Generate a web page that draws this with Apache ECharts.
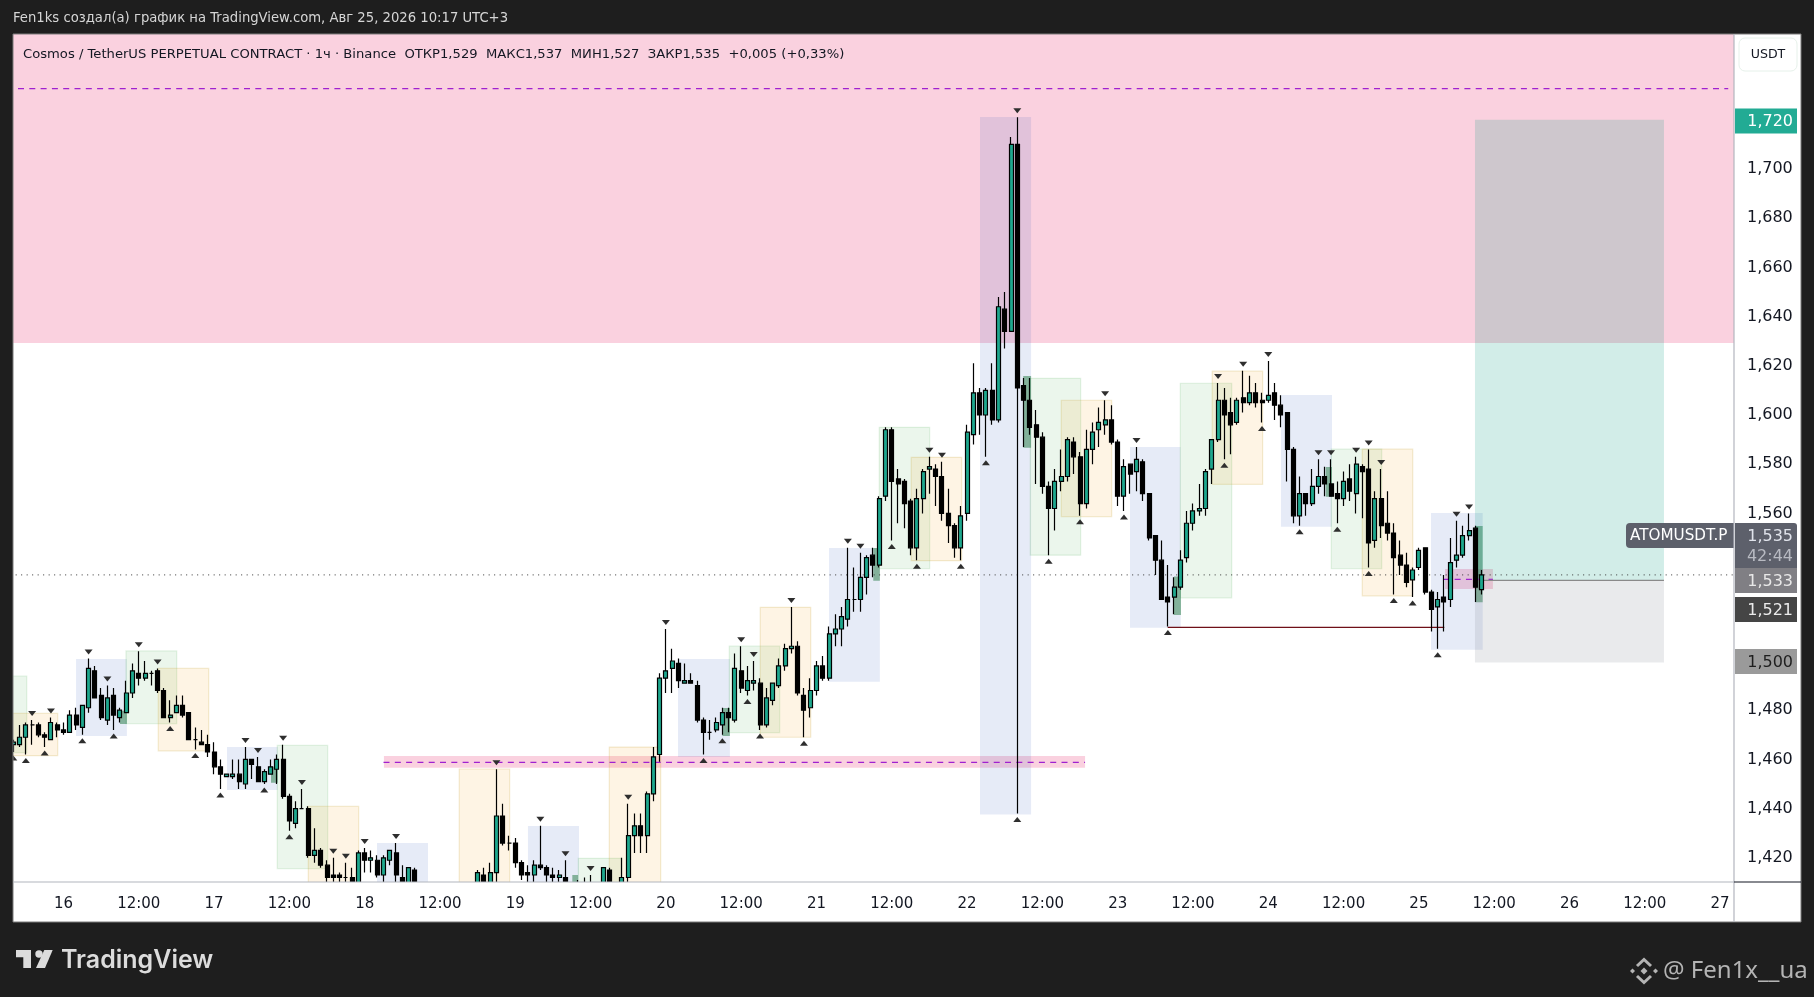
<!DOCTYPE html>
<html><head><meta charset="utf-8">
<style>html,body{margin:0;padding:0;background:#1e1e1e}#c{width:1814px;height:997px}</style>
<script src="https://cdn.jsdelivr.net/npm/echarts@6/dist/echarts.min.js"></script>
</head><body><div id="c"></div>
<script>
const firstHour=-8, lastHour=266;
const opens=[1.466,1.466,1.469,1.474,1.474,1.470,1.468,1.474,1.472,1.471,1.478,1.473,1.481,1.496,1.486,1.476,1.486,1.477,1.479,1.487,1.495,1.493,1.495,1.496,1.488,1.477,1.479,1.482,1.479,1.468,1.467,1.466,1.463,1.457,1.453,1.453,1.454,1.450,1.460,1.457,1.451,1.454,1.456,1.460,1.445,1.434,1.440,1.440,1.421,1.423,1.417,1.413,1.413,1.412,1.412,1.408,1.422,1.419,1.419,1.413,1.419,1.422,1.412,1.408,1.415,1.407,1.405,1.403,1.405,1.402,1.400,1.402,1.404,1.402,1.408,1.413,1.408,1.414,1.437,1.426,1.426,1.418,1.414,1.413,1.417,1.416,1.413,1.412,1.412,1.406,1.404,1.406,1.405,1.407,1.407,1.415,1.407,1.406,1.412,1.429,1.433,1.429,1.446,1.462,1.493,1.497,1.499,1.491,1.492,1.490,1.476,1.471,1.472,1.474,1.479,1.476,1.496,1.488,1.491,1.491,1.474,1.484,1.490,1.498,1.505,1.506,1.486,1.481,1.488,1.498,1.493,1.511,1.513,1.517,1.525,1.525,1.534,1.543,1.539,1.567,1.594,1.574,1.573,1.565,1.546,1.566,1.578,1.578,1.575,1.560,1.555,1.546,1.560,1.592,1.609,1.600,1.610,1.598,1.643,1.634,1.710,1.612,1.606,1.596,1.591,1.571,1.562,1.573,1.575,1.589,1.583,1.564,1.586,1.594,1.596,1.598,1.589,1.567,1.580,1.577,1.581,1.568,1.551,1.541,1.526,1.526,1.530,1.542,1.556,1.561,1.562,1.578,1.590,1.606,1.601,1.597,1.607,1.605,1.609,1.606,1.606,1.609,1.604,1.601,1.586,1.559,1.568,1.564,1.571,1.575,1.572,1.568,1.566,1.574,1.568,1.579,1.578,1.549,1.566,1.556,1.552,1.543,1.539,1.533,1.538,1.546,1.528,1.522,1.526,1.525,1.541,1.543,1.551,1.554,1.529];
const closes=[1.467,1.469,1.474,1.474,1.470,1.469,1.475,1.472,1.471,1.478,1.474,1.482,1.497,1.485,1.477,1.485,1.478,1.480,1.487,1.496,1.493,1.495,1.495,1.488,1.477,1.478,1.482,1.478,1.468,1.468,1.466,1.463,1.457,1.454,1.454,1.454,1.451,1.460,1.458,1.451,1.455,1.457,1.460,1.445,1.435,1.440,1.440,1.421,1.423,1.417,1.412,1.412,1.412,1.412,1.409,1.422,1.419,1.420,1.413,1.420,1.423,1.413,1.408,1.416,1.407,1.405,1.403,1.405,1.402,1.400,1.402,1.404,1.402,1.405,1.414,1.408,1.414,1.437,1.426,1.426,1.418,1.413,1.413,1.417,1.416,1.413,1.412,1.413,1.408,1.404,1.406,1.405,1.407,1.405,1.416,1.407,1.405,1.412,1.429,1.433,1.429,1.446,1.461,1.493,1.496,1.500,1.492,1.492,1.491,1.476,1.471,1.471,1.475,1.479,1.477,1.497,1.489,1.492,1.492,1.474,1.485,1.491,1.498,1.505,1.506,1.487,1.480,1.488,1.498,1.493,1.511,1.513,1.518,1.525,1.525,1.534,1.542,1.539,1.566,1.594,1.573,1.572,1.564,1.546,1.566,1.577,1.579,1.575,1.560,1.555,1.546,1.559,1.593,1.609,1.600,1.610,1.598,1.644,1.634,1.710,1.611,1.606,1.595,1.591,1.571,1.562,1.573,1.575,1.590,1.583,1.564,1.586,1.593,1.597,1.598,1.589,1.567,1.579,1.576,1.582,1.568,1.550,1.541,1.525,1.524,1.530,1.541,1.556,1.561,1.562,1.577,1.590,1.606,1.600,1.596,1.606,1.605,1.609,1.605,1.605,1.608,1.604,1.600,1.586,1.559,1.568,1.564,1.571,1.575,1.572,1.567,1.566,1.573,1.569,1.580,1.577,1.548,1.566,1.555,1.552,1.542,1.539,1.532,1.537,1.545,1.528,1.521,1.525,1.524,1.540,1.543,1.551,1.553,1.530,1.535];
const lows=[1.463,1.465,1.462,1.466,1.469,1.465,1.468,1.469,1.470,1.471,1.472,1.470,1.479,1.485,1.476,1.474,1.472,1.475,1.479,1.485,1.490,1.492,1.490,1.487,1.477,1.475,1.479,1.477,1.468,1.464,1.466,1.461,1.454,1.448,1.453,1.452,1.448,1.448,1.452,1.451,1.450,1.454,1.450,1.444,1.431,1.432,1.440,1.420,1.418,1.416,1.409,1.410,1.410,1.410,1.407,1.407,1.414,1.414,1.412,1.410,1.417,1.410,1.406,1.406,1.405,1.403,1.401,1.400,1.400,1.398,1.398,1.400,1.399,1.400,1.406,1.406,1.406,1.410,1.425,1.423,1.416,1.411,1.410,1.410,1.415,1.410,1.410,1.410,1.405,1.402,1.402,1.403,1.403,1.403,1.405,1.405,1.403,1.404,1.410,1.422,1.422,1.422,1.443,1.459,1.487,1.487,1.489,1.491,1.491,1.475,1.462,1.468,1.471,1.470,1.471,1.475,1.487,1.486,1.488,1.472,1.473,1.482,1.489,1.496,1.503,1.486,1.469,1.477,1.486,1.492,1.492,1.506,1.506,1.514,1.520,1.520,1.527,1.534,1.538,1.565,1.549,1.556,1.554,1.543,1.541,1.560,1.568,1.563,1.557,1.548,1.542,1.541,1.557,1.588,1.592,1.583,1.596,1.597,1.627,1.634,1.438,1.587,1.592,1.572,1.568,1.543,1.553,1.569,1.573,1.576,1.559,1.562,1.580,1.587,1.592,1.588,1.563,1.561,1.568,1.569,1.565,1.549,1.535,1.525,1.514,1.519,1.529,1.540,1.553,1.559,1.559,1.572,1.589,1.582,1.584,1.596,1.601,1.604,1.603,1.597,1.605,1.598,1.595,1.573,1.556,1.555,1.559,1.563,1.568,1.567,1.567,1.556,1.563,1.565,1.560,1.558,1.538,1.546,1.550,1.549,1.527,1.535,1.530,1.526,1.537,1.527,1.512,1.505,1.512,1.522,1.538,1.542,1.549,1.524,1.527];
const highs=[1.468,1.474,1.475,1.476,1.475,1.471,1.477,1.475,1.475,1.480,1.481,1.482,1.501,1.498,1.489,1.490,1.489,1.481,1.492,1.499,1.504,1.500,1.496,1.497,1.489,1.484,1.486,1.486,1.479,1.473,1.472,1.470,1.467,1.460,1.454,1.460,1.460,1.465,1.460,1.461,1.456,1.460,1.462,1.466,1.446,1.443,1.448,1.441,1.432,1.424,1.419,1.420,1.414,1.418,1.416,1.423,1.424,1.423,1.421,1.421,1.423,1.426,1.417,1.416,1.416,1.409,1.408,1.408,1.407,1.405,1.406,1.407,1.406,1.407,1.415,1.416,1.418,1.456,1.442,1.429,1.428,1.419,1.417,1.419,1.433,1.417,1.416,1.415,1.419,1.408,1.411,1.412,1.413,1.409,1.416,1.416,1.409,1.420,1.442,1.438,1.438,1.447,1.465,1.495,1.513,1.505,1.501,1.499,1.495,1.492,1.477,1.476,1.477,1.481,1.481,1.503,1.506,1.498,1.500,1.493,1.489,1.491,1.501,1.507,1.522,1.508,1.489,1.493,1.500,1.502,1.514,1.519,1.522,1.546,1.538,1.544,1.543,1.546,1.567,1.595,1.595,1.578,1.574,1.566,1.570,1.578,1.583,1.580,1.581,1.570,1.556,1.563,1.596,1.621,1.611,1.611,1.621,1.648,1.650,1.713,1.721,1.615,1.615,1.602,1.593,1.573,1.578,1.586,1.591,1.591,1.585,1.594,1.597,1.603,1.606,1.604,1.590,1.582,1.580,1.587,1.582,1.568,1.551,1.549,1.539,1.534,1.545,1.561,1.564,1.572,1.578,1.590,1.613,1.611,1.607,1.607,1.618,1.616,1.613,1.609,1.622,1.613,1.608,1.601,1.587,1.575,1.568,1.578,1.582,1.579,1.582,1.573,1.577,1.580,1.583,1.580,1.586,1.569,1.578,1.569,1.556,1.549,1.544,1.538,1.546,1.546,1.529,1.528,1.535,1.550,1.557,1.555,1.560,1.555,1.537];

// pivot marks (hours since Aug 16 00:00)
const pivotHighHours=[-5,-2,4,7,12,15,29,31,35,38,43,45,48,53,69,76,80,84,90,96,108,110,116,125,127,138,140,152,166,171,184,188,192,200,202,206,208,210,222,224];
const pivotLowHours=[-8,-6,-3,3,8,17,21,25,32,36,102,105,109,111,118,132,136,143,147,152,157,162,169,176,185,191,197,203,208,212,215,219];

// zones: [hour from, hour to, price top, price bottom]
const blueZones=[[2,10.1,1.5008,1.4695],[26.06,34.14,1.4650,1.4476],[49.96,58.09,1.4260,1.40],[74.02,82.15,1.4329,1.40],[97.93,106.2,1.5008,1.4610],[122,130.1,1.5459,1.4916],[146.06,154.2,1.7211,1.4376],[169.96,178.04,1.5870,1.5135],[194.02,202.15,1.6081,1.5546],[217.93,226.17,1.5602,1.5046]];
const greenZones=[[-8.5,-5.86,1.4939,1.4627],[9.96,18.04,1.5041,1.4745],[34.07,42.1,1.4657,1.4156],[82.04,89,1.4198,1.40],[106.1,114.14,1.5061,1.4709],[130,138.04,1.5950,1.5375],[154.07,162.1,1.6149,1.5430],[177.98,186.17,1.6129,1.5257],[202.04,210.07,1.5861,1.5375]];
const orangeZones=[[-8.5,-0.92,1.4787,1.4615],[15.1,23.14,1.4970,1.4635],[39.01,47.04,1.4409,1.40],[63.07,71.1,1.4561,1.40],[86.98,95.17,1.4650,1.40],[111.04,119.08,1.5218,1.4690],[135.1,143.14,1.5828,1.5408],[159.01,167.04,1.6060,1.5587],[183.07,191.1,1.6178,1.5718],[206.98,215.02,1.5861,1.5265]];
const darkZones=[[9,10.1,1.4798,1.4744],[33.07,34.14,1.4570,1.4505],[81.09,82,1.4130,1.40],[105,106.2,1.4809,1.4695],[129.05,130.1,1.5459,1.5326],[152.95,154.2,1.6159,1.5867],[176.97,178.09,1.5343,1.5187],[201.15,202.15,1.5789,1.5668],[224.98,226.17,1.5549,1.5239]];
const pinkZones=[[-8.5,266.5,1.76,1.6293],[51.07,162.8,1.4614,1.4566],[220.16,227.8,1.5374,1.5293]];
const profitZone=[[224.94,255.06,1.7200,1.5328]];
const lossZone=[[224.94,255.06,1.5328,1.4994]];

// levels: [hour from, hour to, price]
const purpleLevels=[[-7.25,265.3,1.7327],[51,162.8,1.4588],[219.9,227.8,1.5332]];
const redLevel=[[175.97,220.05,1.5137]];
const entryLevel=[[224.94,255.06,1.5328]];
const lastPriceLevel=[[-8.5,266.5,1.535]];

const priceTicks=[1.42,1.44,1.46,1.48,1.56,1.58,1.60,1.62,1.64,1.66,1.68,1.70];
const categories=[];
for(let h=firstHour;h<=lastHour;h++){
  const d=new Date(Date.UTC(2026,7,16,h));
  categories.push(d.toISOString().slice(0,16));
}
const candles=opens.map((o,i)=>[o,closes[i],lows[i],highs[i]]);

function boxes(name,rows,fill,stroke,z){
  return {type:'custom',name,xAxisIndex:1,yAxisIndex:0,z,silent:true,clip:true,data:rows,encode:{x:[0,1],y:[2,3]},
    renderItem(p,api){
      const a=api.coord([api.value(0),api.value(2)]),b=api.coord([api.value(1),api.value(3)]);
      return {type:'rect',shape:{x:a[0],y:a[1],width:b[0]-a[0],height:b[1]-a[1]},style:{fill,stroke:stroke||null,lineWidth:stroke?1.2:0}};
    }};
}
function levels(name,rows,stroke,lineWidth,lineDash,z){
  return {type:'custom',name,xAxisIndex:1,yAxisIndex:0,z,silent:true,clip:true,data:rows,encode:{x:[0,1],y:2},
    renderItem(p,api){
      const a=api.coord([api.value(0),api.value(2)]),b=api.coord([api.value(1),api.value(2)]);
      return {type:'line',shape:{x1:a[0],y1:a[1],x2:b[0],y2:b[1]},style:{stroke,lineWidth,lineDash:lineDash||null,fill:null}};
    }};
}
function pivots(name,hours,vals,rotate,offset){
  return {type:'scatter',name,xAxisIndex:0,yAxisIndex:0,z:4,silent:true,symbol:'triangle',symbolSize:[8,5],symbolRotate:rotate,symbolOffset:[0,offset],
    itemStyle:{color:'#2e2e2e',opacity:1},
    data:hours.map(h=>[h-firstHour,vals[h-firstHour]])};
}
const FONT='"DejaVu Sans"';
const white='#ffffff',dark='#1e1e1e';
function R(x,y,w,h,fill,z,extra){return {type:'rect',z:z||5,silent:true,shape:{x,y,width:w,height:h,r:(extra&&extra.r)||0},style:{fill:fill,stroke:extra&&extra.stroke||null,lineWidth:extra&&extra.lw||0}};}
function T(text,x,y,fill,size,opt){opt=opt||{};return {type:'text',z:opt.z||20,silent:true,style:{text,x,y,fill,font:(opt.weight||'400')+' '+size+'px '+(opt.family||FONT),textAlign:opt.align||'left',textVerticalAlign:'middle'}};}
function P(points,fill,z){return {type:'polygon',z:z||20,silent:true,shape:{points},style:{fill}};}
function L(points,stroke,lw,z){return {type:'polyline',z:z||20,silent:true,shape:{points},style:{stroke,lineWidth:lw,fill:null}};}

const headerText='Fen1ks создал(а) график на TradingView.com, Авг 25, 2026 10:17 UTC+3';
const legendText='Cosmos / TetherUS PERPETUAL CONTRACT · 1ч · Binance  ОТКР1,529  МАКС1,537  МИН1,527  ЗАКР1,535  +0,005 (+0,33%)';
const graphicEls=[
  R(0,0,1814,34,dark,5),R(0,0,13,997,dark,5),R(0,922,1814,75,dark,5),R(1801,0,13,997,dark,5),
  R(1734,34,67,888,white,5),R(13,882,1721,40,white,5),
  {type:'rect',z:15,silent:true,shape:{x:13,y:34,width:1788,height:888},style:{fill:null,stroke:'#7a7a7a',lineWidth:1}},
  L([[1734,34],[1734,922]],'#b2b5be',1.2,15),L([[13,882],[1734,882]],'#b2b5be',1.2,15),L([[1734,882],[1801,882]],'#131722',1.2,15),
  T(headerText,13,19,'#d6d6d6',13.2),
  T(legendText,23,54.5,'#131722',13.15),
  R(1739,38,58,33,'#ffffff',6,{r:6,stroke:'#e6f1ea',lw:1}),
  T('USDT',1768,55,'#131722',12.6,{align:'center'}),
  R(1735,108.5,62,25,'#22ab94',8),T('1,720',1793,121.5,'#ffffff',16,{align:'right'}),
  R(1626,523,108,25,'#5d606b',8,{r:[4,0,0,4]}),T('ATOMUSDT.P',1630,536.5,'#ffffff',15.2),
  R(1735,523,62,45,'#5d606b',8,{r:[0,3,0,0]}),T('1,535',1793,536.5,'#e0e3eb',16,{align:'right'}),T('42:44',1793,557,'#b8bac2',16,{align:'right'}),
  R(1735,568,62,25,'#807f84',8),T('1,533',1793,581.5,'#e8e8e8',16,{align:'right'}),
  R(1735,597,62,25,'#454545',8),T('1,521',1793,610.5,'#ebebeb',16,{align:'right'}),
  R(1735,649,62,25,'#9a9a9a',8),T('1,500',1793,662.5,'#1e1e1e',16,{align:'right'}),
  // TradingView mark and word
  P([[16,950],[31,950],[31,968],[23.3,968],[23.3,957.3],[16,957.3]],'#dcdcdc'),
  {type:'circle',z:20,silent:true,shape:{cx:39,cy:954,r:3.7},style:{fill:'#dcdcdc'}},
  P([[44.3,950],[52.7,950],[45,968],[36,968]],'#dcdcdc'),
  T('TradingView',61,960,'#dcdcdc',25,{weight:'600',family:'Inter'}),
  // Binance mark
  L([[1637,966],[1644,959.5],[1651,966]],'#b4b4b4',3),L([[1637,976],[1644,982.5],[1651,976]],'#b4b4b4',3),
  P([[1644,967.5],[1647.5,971],[1644,974.5],[1640.5,971]],'#b4b4b4'),
  P([[1632.5,968.5],[1635,971],[1632.5,973.5],[1630,971]],'#b4b4b4'),
  P([[1655.5,968.5],[1658,971],[1655.5,973.5],[1653,971]],'#b4b4b4'),
  T('@ Fen1x__ua',1663,971,'#b4b4b4',24,{family:'"Noto Sans"'})
];

const chart=echarts.init(document.getElementById('c'),null,{renderer:'canvas',width:1814,height:997});
chart.setOption({
  animation:false,backgroundColor:'transparent',
  grid:{left:10.16,width:1725.6,top:21.4,height:885.6,show:true,backgroundColor:'#ffffff',borderWidth:0,containLabel:false},
  graphic:{elements:graphicEls},
  xAxis:[
    {type:'category',data:categories,offset:-25,z:10,boundaryGap:true,axisLine:{show:false},axisTick:{show:false},splitLine:{show:false},
     axisLabel:{margin:15,color:'#131722',fontFamily:FONT,fontSize:15,hideOverlap:false,showMinLabel:true,showMaxLabel:true,
       interval:(i,v)=>/T(00|12):/.test(v),
       formatter:v=>v.slice(11,13)==='12'?'12:00':String(parseInt(v.slice(8,10),10))}},
    {type:'value',min:firstHour-0.5,max:lastHour+0.5,show:false,splitLine:{show:false}}
  ],
  yAxis:[{type:'value',position:'right',offset:-1.8,z:10,min:1.40,max:1.76,interval:0.02,scale:true,
     axisLine:{show:false},axisTick:{show:false},splitLine:{show:false},
     axisLabel:{margin:13,align:'left',color:'#131722',fontFamily:FONT,fontSize:16,padding:[2,0,0,0],
       customValues:priceTicks,formatter:v=>v.toFixed(3).replace('.',',')}}],
  series:[
    boxes('pink',pinkZones,'rgba(236,64,122,0.24)',null,1),
    boxes('blue',blueZones,'rgba(50,90,190,0.12)',null,1),
    boxes('green',greenZones,'rgba(76,175,80,0.11)','rgba(76,175,80,0.15)',1),
    boxes('orange',orangeZones,'rgba(245,166,35,0.12)','rgba(200,170,60,0.22)',1),
    boxes('dark',darkZones,'rgba(50,130,80,0.55)',null,1),
    boxes('profit',profitZone,'rgba(8,153,129,0.18)',null,1),
    boxes('loss',lossZone,'rgba(120,123,134,0.16)',null,1),
    levels('purple',purpleLevels,'#a020d0',1.3,[6,5.3],2),
    levels('red',redLevel,'#6f1018',1.2,null,2),
    levels('entry',entryLevel,'#8a8a8a',1.3,null,2),
    levels('last',lastPriceLevel,'#333333',1,[1,4.5],2),
    {type:'candlestick',name:'ATOMUSDT.P',xAxisIndex:0,yAxisIndex:0,z:3,silent:true,data:candles,barWidth:4.5,
      itemStyle:{color:'#1ea88e',color0:'#000000',borderColor:'#000000',borderColor0:'#000000',borderWidth:1.2}},
    pivots('pivotHigh',pivotHighHours,highs,180,-6.5),
    pivots('pivotLow',pivotLowHours,lows,0,6)
  ]
});
</script></body></html>
